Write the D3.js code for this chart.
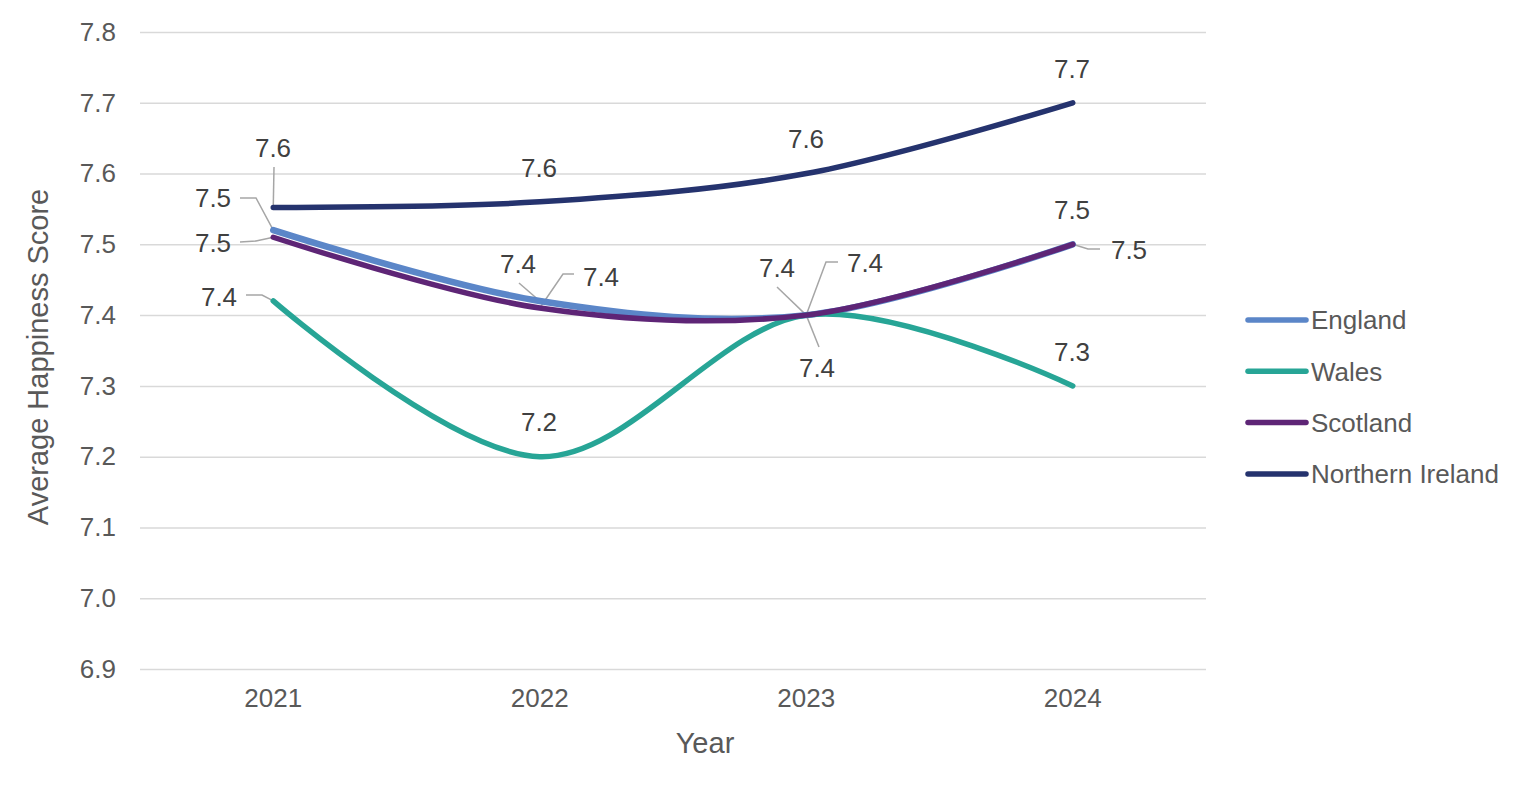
<!DOCTYPE html>
<html>
<head>
<meta charset="utf-8">
<script src="https://cdn.jsdelivr.net/npm/d3@7"></script>
<style>
  body { margin: 0; background: #fff; }
  svg { display: block; font-family: "Liberation Sans", Arial, sans-serif; }
</style>
</head>
<body>
<svg id="chart" width="1536" height="795"></svg>
<script>
var years = ["2021", "2022", "2023", "2024"];
var yTicks = [6.9, 7.0, 7.1, 7.2, 7.3, 7.4, 7.5, 7.6, 7.7, 7.8];
var seriesNames = ["England", "Wales", "Scotland", "Northern Ireland"];
var england = [7.52, 7.42, 7.40, 7.50];
var wales = [7.42, 7.20, 7.40, 7.30];
var scotland = [7.51, 7.41, 7.40, 7.50];
var northernIreland = [7.552, 7.56, 7.60, 7.70];
var colors = ["#5b86c8", "#27a596", "#5e2576", "#25336e"];

var svg = d3.select("#chart");
var margin = {left: 140, right: 330, top: 32, bottom: 126};
var W = 1536, H = 795;
var font = "'Liberation Sans', Arial, sans-serif";

var x = d3.scaleBand().domain(years).range([margin.left, W - margin.right]);
var y = d3.scaleLinear().domain([6.9, 7.8]).range([H - margin.bottom, margin.top]);
var cx = function (yr) { return x(yr) + x.bandwidth() / 2; };

// grid
var yAxis = d3.axisLeft(y).tickValues(yTicks).tickFormat(d3.format(".1f"))
  .tickSize(-(W - margin.right - margin.left)).tickPadding(24);
var gy = svg.append("g").attr("transform", "translate(" + margin.left + ",0)").call(yAxis);
gy.select(".domain").remove();
gy.selectAll(".tick line").attr("stroke", "#d9d9d9").attr("stroke-width", 1.5);
gy.selectAll(".tick text").attr("fill", "#595959").style("font-size", "26px").style("font-family", font);

var xAxis = d3.axisBottom(x).tickSize(0).tickPadding(20);
var gx = svg.append("g").attr("transform", "translate(0," + (H - margin.bottom) + ")").call(xAxis);
gx.select(".domain").remove();
gx.selectAll(".tick text").attr("fill", "#595959").style("font-size", "26px").style("font-family", font);

svg.append("text").attr("x", 705).attr("y", 753).attr("text-anchor", "middle")
  .attr("fill", "#595959").style("font-size", "29px").text("Year");
svg.append("text").attr("transform", "translate(48,357) rotate(-90)").attr("text-anchor", "middle")
  .attr("fill", "#595959").style("font-size", "29px").text("Average Happiness Score");

var all = [england, wales, scotland, northernIreland];
var widths = [6.5, 5.5, 5.5, 5.5];
var line = d3.line().x(function (d, i) { return cx(years[i]); }).y(function (d) { return y(d); })
  .curve(d3.curveCardinal.tension(0));

// data labels: series, year index, label x, label y, leader line bends
var labels = [
  [0, 0, 213, 198, [[240, 198], [256, 198]]],
  [2, 0, 213, 243, [[240, 242], [256, 241]]],
  [3, 0, 273, 148, [[274, 167]]],
  [1, 0, 219, 297, [[246, 295], [262, 295]]],
  [0, 1, 518, 264, [[519, 283]]],
  [2, 1, 601, 277, [[574, 274], [563, 274]]],
  [3, 1, 539, 168, null],
  [1, 1, 539, 422, null],
  [0, 2, 777, 268, [[777, 287]]],
  [2, 2, 865, 263, [[838, 262], [826, 262]]],
  [1, 2, 817, 368, [[819, 347]]],
  [3, 2, 806, 139, null],
  [3, 3, 1072, 69, null],
  [0, 3, 1072, 210, null],
  [2, 3, 1129, 250, [[1100, 249], [1088, 249]]],
  [1, 3, 1072, 352, null]
];

var gl = svg.append("g");
labels.forEach(function (l) {
  if (!l[4]) return;
  var pts = l[4].concat([[cx(years[l[1]]), y(all[l[0]][l[1]])]]);
  gl.append("path").attr("d", d3.line()(pts)).attr("fill", "none")
    .attr("stroke", "#a6a6a6").attr("stroke-width", 1.5);
});

svg.append("g").selectAll("path").data(all).enter().append("path")
  .attr("d", line).attr("fill", "none")
  .attr("stroke", function (d, i) { return colors[i]; })
  .attr("stroke-width", function (d, i) { return widths[i]; }).attr("stroke-linecap", "round");

svg.append("g").selectAll("text").data(labels).enter().append("text")
  .attr("x", function (d) { return d[2]; }).attr("y", function (d) { return d[3]; })
  .attr("dy", "0.36em").attr("text-anchor", "middle").attr("fill", "#404040")
  .style("font-size", "26px")
  .text(function (d) { return d3.format(".1f")(all[d[0]][d[1]]); });

// legend
var lg = svg.append("g").selectAll("g").data(seriesNames).enter().append("g")
  .attr("transform", function (d, i) { return "translate(1248," + (320 + i * 51.3) + ")"; });
lg.append("line").attr("x1", 0).attr("x2", 58).attr("y1", 0).attr("y2", 0)
  .attr("stroke", function (d, i) { return colors[i]; }).attr("stroke-width", 5.5)
  .attr("stroke-linecap", "round");
lg.append("text").attr("x", 63).attr("dy", "0.36em").attr("fill", "#595959")
  .style("font-size", "26px").text(function (d) { return d; });
</script>
</body>
</html>
